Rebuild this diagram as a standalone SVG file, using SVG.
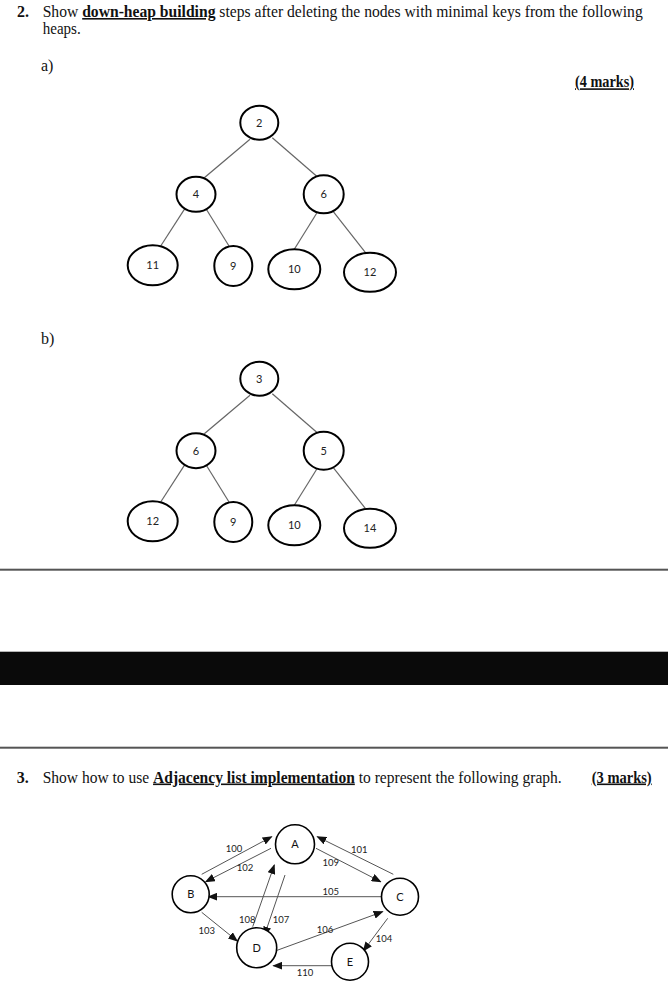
<svg xmlns="http://www.w3.org/2000/svg" width="668" height="989" viewBox="0 0 668 989">
<style>
.t{font-family:"Liberation Serif","Times New Roman",serif;font-size:16px;fill:#111}
.b{font-weight:bold;text-decoration:underline}
.nb{font-weight:bold}
.hn{fill:#fff;stroke:#000;stroke-width:2}
.he{stroke:#666;stroke-width:1.2;fill:none}
.hl{font-family:Lato,"Liberation Sans",sans-serif;font-size:11px;fill:#222;text-anchor:middle}
.gn{fill:#fff;stroke:#000;stroke-width:1.6}
.ge{stroke:#555;stroke-width:1;fill:none;marker-end:url(#ah)}
.gl{font-family:Lato,"Liberation Sans",sans-serif;font-size:9.5px;fill:#222;text-anchor:middle}
.nl{font-family:Lato,"Liberation Sans",sans-serif;font-size:11px;fill:#111;text-anchor:middle}
</style>
<defs>
<marker id="ah" markerUnits="userSpaceOnUse" markerWidth="10" markerHeight="8" refX="9" refY="4" orient="auto">
<path d="M0,0 L10,4 L0,8 Z" fill="#111"/>
</marker>
</defs>
<rect width="668" height="989" fill="#fff"/>

<g id="texts">
<text class="t" x="17" y="17"><tspan class="nb">2.</tspan></text>
<text class="t" x="42.7" y="17" textLength="600" lengthAdjust="spacingAndGlyphs">Show <tspan class="b">down-heap building</tspan> steps after deleting the nodes with minimal keys from the following</text>
<text class="t" x="42.7" y="33.5" textLength="38" lengthAdjust="spacingAndGlyphs">heaps.</text>
<text class="t" x="41" y="71">a)</text>
<text class="t b" x="575" y="87.3" textLength="59" lengthAdjust="spacingAndGlyphs">(4 marks)</text>
<text class="t" x="41" y="344">b)</text>
<text class="t" x="16.7" y="782.5"><tspan class="nb">3.</tspan></text>
<text class="t" x="42.7" y="782.5" textLength="519" lengthAdjust="spacingAndGlyphs">Show how to use <tspan class="b">Adjacency list implementation</tspan> to represent the following graph.</text>
<text class="t b" x="591.7" y="782.5" textLength="60" lengthAdjust="spacingAndGlyphs">(3 marks)</text>
</g>

<g id="separators">
<rect x="0" y="568.7" width="668" height="2" fill="#555"/>
<rect x="0" y="651.7" width="668" height="33.3" fill="#0a0a0a"/>
<rect x="0" y="746.7" width="668" height="2" fill="#555"/>
</g>

<g id="heap-a">
<g id="heap-a-edges">
<line class="he" x1="250" y1="139.3" x2="204.3" y2="177.7"/>
<line class="he" x1="272.3" y1="137.7" x2="317.3" y2="176.7"/>
<line class="he" x1="185" y1="208.3" x2="160.7" y2="246"/>
<line class="he" x1="205.7" y1="208.3" x2="229" y2="246"/>
<line class="he" x1="316.7" y1="213.3" x2="294.3" y2="249.3"/>
<line class="he" x1="333.3" y1="211.7" x2="365.3" y2="252.3"/>
</g>
<g id="a-n2"><ellipse class="hn" cx="259.3" cy="122.7" rx="19" ry="17"/><text class="hl" x="259.3" y="126.5">2</text></g>
<g id="a-n4"><ellipse class="hn" cx="196" cy="194.3" rx="19.5" ry="17.5"/><text class="hl" x="196" y="198.1">4</text></g>
<g id="a-n6"><ellipse class="hn" cx="323.7" cy="194.3" rx="20" ry="19"/><text class="hl" x="323.7" y="198.1">6</text></g>
<g id="a-n11"><ellipse class="hn" cx="152.7" cy="265.3" rx="25" ry="20"/><text class="hl" x="152.7" y="269.1">11</text></g>
<g id="a-n9"><ellipse class="hn" cx="233.3" cy="266" rx="19" ry="20"/><text class="hl" x="233.3" y="269.8">9</text></g>
<g id="a-n10"><ellipse class="hn" cx="294.3" cy="269.3" rx="26" ry="20"/><text class="hl" x="294.3" y="273.1">10</text></g>
<g id="a-n12"><ellipse class="hn" cx="370" cy="272.3" rx="26" ry="19.5"/><text class="hl" x="370" y="276.1">12</text></g>
</g>

<g id="heap-b" transform="translate(0,256)">
<g id="heap-b-edges">
<line class="he" x1="250" y1="139.3" x2="204.3" y2="177.7"/>
<line class="he" x1="272.3" y1="137.7" x2="317.3" y2="176.7"/>
<line class="he" x1="185" y1="208.3" x2="160.7" y2="246"/>
<line class="he" x1="205.7" y1="208.3" x2="229" y2="246"/>
<line class="he" x1="316.7" y1="213.3" x2="294.3" y2="249.3"/>
<line class="he" x1="333.3" y1="211.7" x2="365.3" y2="252.3"/>
</g>
<g id="b-n3"><ellipse class="hn" cx="259.3" cy="122.7" rx="19" ry="17"/><text class="hl" x="259.3" y="126.5">3</text></g>
<g id="b-n6"><ellipse class="hn" cx="196" cy="194.7" rx="19.5" ry="17.5"/><text class="hl" x="196" y="198.5">6</text></g>
<g id="b-n5"><ellipse class="hn" cx="323.7" cy="194.7" rx="20" ry="19"/><text class="hl" x="323.7" y="198.5">5</text></g>
<g id="b-n12"><ellipse class="hn" cx="152.7" cy="265.3" rx="25" ry="20"/><text class="hl" x="152.7" y="269.1">12</text></g>
<g id="b-n9"><ellipse class="hn" cx="233.3" cy="266" rx="19" ry="20"/><text class="hl" x="233.3" y="269.8">9</text></g>
<g id="b-n10"><ellipse class="hn" cx="294.3" cy="269.3" rx="26" ry="20"/><text class="hl" x="294.3" y="273.1">10</text></g>
<g id="b-n14"><ellipse class="hn" cx="370" cy="272.3" rx="26" ry="19.5"/><text class="hl" x="370" y="276.1">14</text></g>
</g>

<g id="graph-edges">
<line class="ge" x1="201.7" y1="874.3" x2="271.7" y2="836.7"/>
<line class="ge" x1="271" y1="848.3" x2="205.7" y2="881.7"/>
<line class="ge" x1="393.3" y1="874.3" x2="317.3" y2="836.7"/>
<line class="ge" x1="316" y1="848.3" x2="380.7" y2="881.7"/>
<line class="ge" x1="381.7" y1="896.7" x2="208.3" y2="896.7"/>
<line class="ge" x1="201.7" y1="912.3" x2="237.3" y2="941"/>
<line class="ge" x1="252.7" y1="926.7" x2="274.3" y2="865"/>
<line class="ge" x1="285" y1="875" x2="264.3" y2="935.7"/>
<line class="ge" x1="273.3" y1="951.7" x2="382.7" y2="911.7"/>
<line class="ge" x1="387.7" y1="918.3" x2="363.3" y2="951"/>
<line class="ge" x1="332.3" y1="965.7" x2="273.3" y2="965.7"/>
<text class="gl" x="234" y="851.7">100</text>
<text class="gl" x="245" y="871.2">102</text>
<text class="gl" x="359.3" y="852.5">101</text>
<text class="gl" x="330.7" y="865.7">109</text>
<text class="gl" x="330.7" y="895.2">105</text>
<text class="gl" x="247.3" y="922.5">108</text>
<text class="gl" x="281" y="922.5">107</text>
<text class="gl" x="206.7" y="933.5">103</text>
<text class="gl" x="325" y="932.5">106</text>
<text class="gl" x="384" y="941.7">104</text>
<text class="gl" x="305" y="975.7">110</text>
</g>

<g id="g-A"><circle class="gn" cx="295" cy="844.3" r="19.5"/><text class="nl" x="295" y="848.2">A</text></g>
<g id="g-B"><circle class="gn" cx="190.7" cy="894.3" r="18.5"/><text class="nl" x="190.7" y="898.2">B</text></g>
<g id="g-C"><circle class="gn" cx="400" cy="896.7" r="18.5"/><text class="nl" x="400" y="900.6">C</text></g>
<g id="g-D"><circle class="gn" cx="256.7" cy="947.7" r="20"/><text class="nl" x="256.7" y="951.6">D</text></g>
<g id="g-E"><circle class="gn" cx="350" cy="961.7" r="18.5"/><text class="nl" x="350" y="965.6">E</text></g>
</svg>
